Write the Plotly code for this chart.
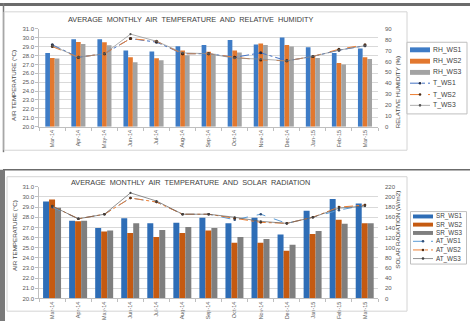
import plotly.graph_objects as go

# ---------------- data ----------------
months = ["Mar-14", "Apr-14", "May-14", "Jun-14", "Jul-14", "Aug-14", "Sep-14",
          "Oct-14", "Nov-14", "Dec-14", "Jan-15", "Feb-15", "Mar-15"]

# top chart: relative humidity (%) bars, air temperature (deg C) lines
rh_ws1 = [67.7, 80.3, 80.3, 70.1, 69.1, 74.0, 75.2, 79.7, 75.5, 82.1, 73.1, 67.7, 71.9]
rh_ws2 = [63.2, 77.9, 77.6, 63.8, 62.9, 70.1, 68.9, 70.1, 76.4, 75.2, 64.6, 58.5, 63.8]
rh_ws3 = [62.6, 76.1, 74.9, 59.3, 61.1, 65.6, 67.1, 68.3, 75.2, 73.7, 63.2, 57.2, 62.3]
t_ws1 = [29.2, 27.8, 28.2, 29.9, 29.5, 28.2, 28.2, 27.8, 28.3, 27.4, 27.9, 28.6, 29.1]
t_ws2 = [29.0, 27.8, 28.2, 29.9, 29.6, 28.2, 28.2, 27.8, 27.5, 27.4, 27.9, 28.7, 29.2]
t_ws3 = [29.1, 27.8, 28.2, 30.4, 29.6, 28.3, 28.2, 27.7, 27.6, 27.4, 27.9, 28.6, 29.1]

# bottom chart: solar radiation (W/m2) bars, air temperature (deg C) lines
sr_ws1 = [191, 153, 139, 158, 148, 149, 159, 148, 159, 126, 173, 196, 187]
sr_ws2 = [195, 152, 132, 129, 121, 129, 134, 110, 110, 94, 127, 155, 148]
sr_ws3 = [179, 153, 134, 148, 135, 141, 139, 121, 117, 106, 133, 147, 148]
at_ws1 = [29.0, 27.85, 28.3, 29.9, 29.5, 28.3, 28.3, 27.75, 28.3, 27.4, 28.0, 28.7, 29.2]
at_ws2 = [29.1, 27.85, 28.3, 29.9, 29.5, 28.3, 28.3, 27.9, 27.5, 27.4, 28.0, 29.0, 29.2]
at_ws3 = [29.1, 27.85, 28.3, 30.4, 29.6, 28.3, 28.3, 28.0, 27.6, 27.4, 28.0, 28.9, 29.1]

temp_ticks = [20.0 + i for i in range(12)]
rh_ticks = [10 * i for i in range(10)]
sr_ticks = [20 * i for i in range(12)]

# ---------------- helpers ----------------
W, H = 474, 324
def px(x):
    return x / W
def py(y):
    return 1 - y / H

FONT = "Liberation Sans, Arial, sans-serif"
TXT = "#595959"
GRID = "#D9D9D9"
AXL = "#BFBFBF"

fig = go.Figure()

# ---------------- top chart ----------------
top_bar_cols = ["#3E7CC6", "#E2782F", "#A3A3A3"]
for i, (nm, vals) in enumerate([("RH_WS1", rh_ws1), ("RH_WS2", rh_ws2), ("RH_WS3", rh_ws3)]):
    fig.add_trace(go.Bar(x=months, y=vals, name=nm, xaxis="x", yaxis="y",
                         marker=dict(color=top_bar_cols[i], line=dict(width=0)),
                         width=0.18, offset=-0.27 + 0.18 * i, showlegend=False))

top_line_style = [
    ("T_WS1", t_ws1, "#4472C4", "dashdot", 1.0, "#1F2A44", 3),
    ("T_WS2", t_ws2, "#ED7D31", "dash", 1.0, "#4A2A14", 3),
    ("T_WS3", t_ws3, "#8C8C8C", "solid", 0.7, "#555555", 2.2),
]
for nm, vals, col, dash, w, mcol, ms in top_line_style:
    fig.add_trace(go.Scatter(x=months, y=vals, name=nm, xaxis="x", yaxis="y2",
                             mode="lines+markers",
                             line=dict(color=col, dash=dash, width=w),
                             marker=dict(color=mcol, size=ms),
                             showlegend=False))

# ---------------- bottom chart ----------------
bot_bar_cols = ["#2E6DB6", "#C55A11", "#7F7F7F"]
for i, (nm, vals) in enumerate([("SR_WS1", sr_ws1), ("SR_WS2", sr_ws2), ("SR_WS3", sr_ws3)]):
    fig.add_trace(go.Bar(x=months, y=vals, name=nm, xaxis="x2", yaxis="y3",
                         marker=dict(color=bot_bar_cols[i], line=dict(width=0)),
                         width=0.23, offset=-0.355 + 0.23 * i, showlegend=False))

bot_line_style = [
    ("AT_WS1", at_ws1, "#5B9BD5", "dash", 1.0, "#2F4F7A", 2.6),
    ("AT_WS2", at_ws2, "#ED7D31", "dashdot", 1.0, "#5A3215", 2.6),
    ("AT_WS3", at_ws3, "#606060", "solid", 0.7, "#404040", 2.2),
]
for nm, vals, col, dash, w, mcol, ms in bot_line_style:
    fig.add_trace(go.Scatter(x=months, y=vals, name=nm, xaxis="x2", yaxis="y4",
                             mode="lines+markers",
                             line=dict(color=col, dash=dash, width=w),
                             marker=dict(color=mcol, size=ms),
                             showlegend=False))

# ---------------- axes ----------------
xdom = [px(39.3), px(378)]
top_dom = [py(126), py(26.3)]
bot_dom = [py(301), py(187.3)]

xcommon = dict(type="category", range=[-0.5, 12.5], tickangle=-90,
               tickfont=dict(size=5.5, color=TXT, family=FONT),
               showline=True, linecolor=AXL, linewidth=1,
               ticks="outside", tickson="boundaries", ticklen=3, tickcolor=AXL,
               showgrid=False, zeroline=False, fixedrange=True)

tcommon = dict(range=[20, 31], tickvals=temp_ticks, tickformat=".1f",
               tickfont=dict(size=6, color=TXT, family=FONT),
               showgrid=True, gridcolor=GRID, gridwidth=1,
               showline=True, linecolor=AXL, linewidth=1,
               ticks="outside", ticklen=3, tickcolor=AXL,
               zeroline=False, side="left")

rcommon = dict(tickfont=dict(size=6, color=TXT, family=FONT),
               showgrid=False, showline=False, zeroline=False, side="right",
               ticks="", ticklabelstandoff=6)

fig.update_layout(
    xaxis=dict(domain=xdom, anchor="y", **xcommon),
    yaxis=dict(domain=top_dom, anchor="x", range=[0, 90], tickvals=rh_ticks, **rcommon),
    yaxis2=dict(overlaying="y", anchor="x", **tcommon),
    xaxis2=dict(domain=xdom, anchor="y3", **xcommon),
    yaxis3=dict(domain=bot_dom, anchor="x2", range=[0, 220], tickvals=sr_ticks, **rcommon),
    yaxis4=dict(overlaying="y3", anchor="x2", **tcommon),
)

# ---------------- frames ----------------
shapes = [
    dict(type="rect", xref="paper", yref="paper", x0=px(0), x1=px(470), y0=py(3), y1=py(0),
         fillcolor="#6B6B6B", line=dict(width=0)),
    dict(type="line", xref="paper", yref="paper", x0=px(3.5), x1=px(3.5), y0=py(152), y1=py(0),
         line=dict(color="#7A7A7A", width=1.5)),
    dict(type="rect", xref="paper", yref="paper", x0=px(4), x1=px(407), y0=py(150), y1=py(9),
         line=dict(color="#D4D4D4", width=1)),
    dict(type="line", xref="paper", yref="paper", x0=px(3), x1=px(470), y0=py(170), y1=py(170),
         line=dict(color="#6B6B6B", width=1.5)),
    dict(type="rect", xref="paper", yref="paper", x0=px(0), x1=px(5), y0=py(324), y1=py(170),
         fillcolor="#7A7A7A", line=dict(width=0)),
    dict(type="rect", xref="paper", yref="paper", x0=px(7), x1=px(407), y0=py(314), y1=py(177),
         line=dict(color="#D4D4D4", width=1)),
]

annotations = []

def legend_box(x0, x1, y0, y1, rows, sx0, sx1, tx, items, bar_h, fs):
    shapes.append(dict(type="rect", xref="paper", yref="paper", x0=px(x0), x1=px(x1),
                       y0=py(y1), y1=py(y0), line=dict(color="#BFBFBF", width=1),
                       fillcolor="white"))
    for yy, it in zip(rows, items):
        kind, label, col, dash, w, mcol = it
        if kind == "bar":
            shapes.append(dict(type="rect", xref="paper", yref="paper",
                               x0=px(sx0), x1=px(sx1), y0=py(yy + bar_h / 2), y1=py(yy - bar_h / 2),
                               fillcolor=col, line=dict(width=0)))
        else:
            shapes.append(dict(type="line", xref="paper", yref="paper",
                               x0=px(sx0), x1=px(sx1), y0=py(yy), y1=py(yy),
                               line=dict(color=col, dash=dash, width=w)))
            cx = (sx0 + sx1) / 2
            shapes.append(dict(type="circle", xref="paper", yref="paper",
                               x0=px(cx - 1.3), x1=px(cx + 1.3), y0=py(yy + 1.3), y1=py(yy - 1.3),
                               fillcolor=mcol, line=dict(width=0)))
        annotations.append(dict(text=label, x=px(tx), y=py(yy), xref="paper", yref="paper",
                                xanchor="left", yanchor="middle", showarrow=False,
                                font=dict(size=fs, color="#404040", family=FONT)))

top_items = [("bar", "RH_WS1", top_bar_cols[0], None, 0, None),
             ("bar", "RH_WS2", top_bar_cols[1], None, 0, None),
             ("bar", "RH_WS3", top_bar_cols[2], None, 0, None)] + \
            [("line", s[0], s[2], s[3], s[4], s[5]) for s in top_line_style]
legend_box(407, 467, 40, 113, [47.7, 59.3, 70.7, 81.7, 93.3, 104.3], 410, 430, 431,
           top_items, 5, 6.8)

bot_items = [("bar", "SR_WS1", bot_bar_cols[0], None, 0, None),
             ("bar", "SR_WS2", bot_bar_cols[1], None, 0, None),
             ("bar", "SR_WS3", bot_bar_cols[2], None, 0, None)] + \
            [("line", s[0], s[2], s[3], s[4], s[5]) for s in bot_line_style]
legend_box(410.5, 466.5, 212.5, 266, [217.5, 225.8, 234.3, 242.8, 251.6, 260.4], 413, 433, 434,
           bot_items, 4, 6.3)

# ---------------- titles ----------------
def ann(text, x, y, size, angle=0, color="#404040"):
    annotations.append(dict(text=text, x=px(x), y=py(y), xref="paper", yref="paper",
                            xanchor="center", yanchor="middle", showarrow=False,
                            textangle=angle, font=dict(size=size, color=color, family=FONT)))

ann("AVERAGE  MONTHLY  AIR  TEMPERATURE  AND  RELATIVE  HUMIDITY", 190, 17, 7.3)
ann("AVERAGE  MONTHLY  AIR  TEMPERATURE  AND  SOLAR  RADIATION", 190, 183, 7.3)
ann("AIR TEMPERATURE (°C)", 13.5, 84, 6.2, -90)
ann("RELATIVE HUMIDITY (%)", 397.5, 91.5, 6.2, -90)
ann("AIR TEMPERATURE (°C)", 14.5, 237, 6.2, -90)
ann("SOLAR RADIATION (W/m2)", 398, 231, 6.2, -90)

fig.update_layout(
    width=W, height=H, autosize=False,
    margin=dict(l=0, r=0, t=0, b=0),
    paper_bgcolor="white", plot_bgcolor="white",
    barmode="overlay", showlegend=False,
    font=dict(family=FONT, color=TXT),
    shapes=shapes, annotations=annotations,
)

fig.write_html("out.html", config={"displayModeBar": False})
